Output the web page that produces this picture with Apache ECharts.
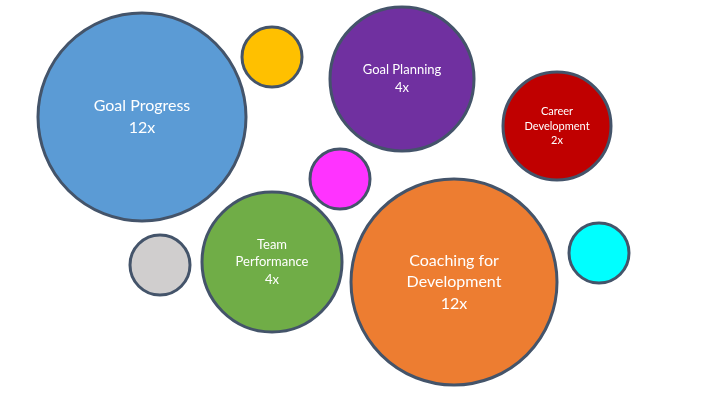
<!DOCTYPE html>
<html>
<head>
<meta charset="utf-8">
<script src="https://cdn.jsdelivr.net/npm/echarts@6/dist/echarts.min.js"></script>
<style>html,body{margin:0;padding:0;background:#fff}#chart{width:720px;height:405px}</style>
</head>
<body>
<div id="chart"></div>
<script>
// bubble data, positions in chart units (0-720 across, 0-405 down)
var names = ['Goal Progress\n12x', '', 'Goal Planning\n4x', 'Career\nDevelopment\n2x', '', '', 'Team\nPerformance\n4x', 'Coaching for\nDevelopment\n12x', ''];
var xs = [142, 272, 402, 557, 340, 160, 272, 454, 599];
var ys = [117, 57, 79, 126, 179, 265, 262, 282, 253];
var diameters = [208, 60, 144, 108, 60, 60, 140, 206, 60];
var colors = ['#5B9BD5', '#FFC000', '#7030A0', '#C00000', '#FF33FF', '#D0CECE', '#70AD47', '#ED7D31', '#00FFFF'];
var fontSizes = [16, 12, 13, 11, 12, 12, 13, 16, 12];

var myChart = echarts.init(document.getElementById('chart'));

var data = [];
for (var i = 0; i < xs.length; i++) {
    data.push({
        value: [xs[i], ys[i]],
        symbolSize: diameters[i],
        itemStyle: { color: colors[i] },
        label: { formatter: names[i], fontSize: fontSizes[i], lineHeight: fontSizes[i] * 1.35 }
    });
}

var option = {
    animation: false,
    grid: { left: 0, right: 0, top: 0, bottom: 0 },
    xAxis: { type: 'value', min: 0, max: 720, show: false },
    yAxis: { type: 'value', min: 0, max: 405, inverse: true, show: false },
    series: [{
        type: 'scatter',
        symbol: 'circle',
        itemStyle: { borderColor: '#44546A', borderWidth: 3, opacity: 1 },
        label: {
            show: true,
            position: 'inside',
            color: '#fff',
            fontFamily: 'Lato, "Open Sans", sans-serif'
        },
        data: data
    }]
};

myChart.setOption(option);
</script>
</body>
</html>
